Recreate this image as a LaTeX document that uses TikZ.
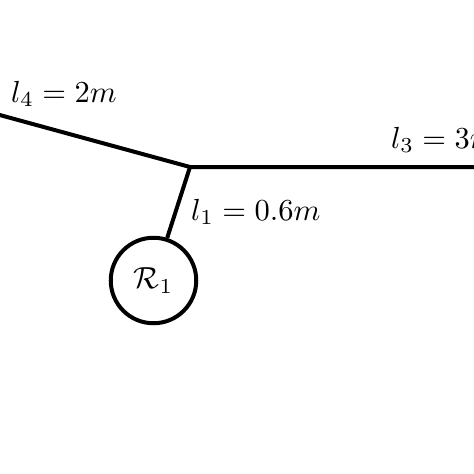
\documentclass[tikz,border=0pt]{standalone}
\tikzset{
  wire/.style={line width=4pt, line join=miter},
  lbl/.style={anchor=base west, inner sep=0pt},
  res/.style={circle, draw, line width=4pt, minimum size=85.5pt, inner sep=0pt}
}
\newcommand{\bigtxt}[1]{\scalebox{3.05}{#1}}
\begin{document}
\begin{tikzpicture}[x=1pt,y=-1pt]
\useasboundingbox (0,0) rectangle (474,474);
\coordinate (A) at (-5,113.7);
\coordinate (J) at (190,167);
\coordinate (B) at (480,167);
\node[res] (R1) at (153.5,280.5) {\bigtxt{$\mathcal{R}_1$}};
\draw[wire] (A) -- (J) -- (B);
\draw[wire] (J) -- (R1);
\node[lbl] (l4) at (11,102) {\bigtxt{$l_4 = 2m$}};
\node[lbl] (l3) at (391,148) {\bigtxt{$l_3 = 3m$}};
\node[lbl] (l1) at (191,220) {\bigtxt{$l_1 = 0.6m$}};
\end{tikzpicture}
\end{document}
